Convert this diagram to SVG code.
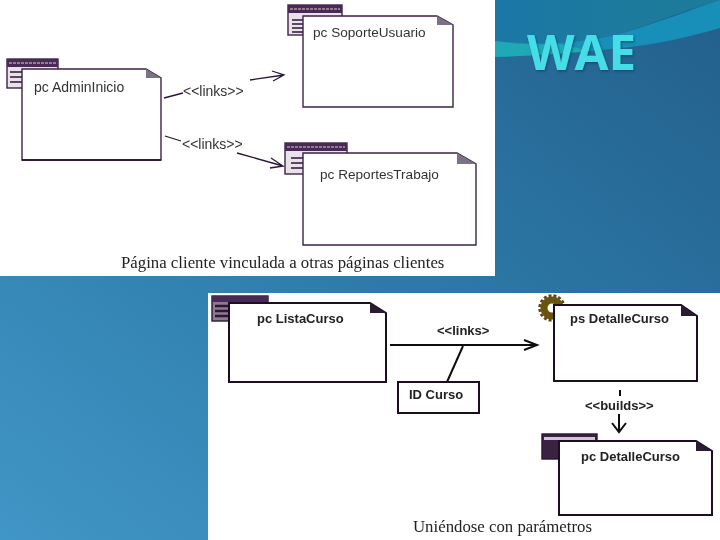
<svg xmlns="http://www.w3.org/2000/svg" width="720" height="540" viewBox="0 0 720 540">
<style>
.panel{fill:#fff}
.body{fill:#fff;stroke:#3d2145;stroke-width:1.4}
.bodyb{fill:#fff;stroke:#1d0c24;stroke-width:2}
.fold{fill:#7d7285;stroke:none}
.foldb{fill:#2a1c30;stroke:none}
.tab{fill:#e9e2ea;stroke:#3d2145;stroke-width:1.4}
.tabg{fill:#8c7a92;stroke:#2d1436;stroke-width:1.4}
.tabd{fill:#3a2342;stroke:#2d1436;stroke-width:1.4}
.bar{fill:#4a2a55}
.dots{fill:none;stroke:#d8cfdc;stroke-width:1;stroke-dasharray:3 1}
.ln{stroke:#2d1436;stroke-width:1.5}
.t{font-family:"Liberation Sans",Arial,sans-serif;font-size:14px;fill:#333}
.tm{font-family:"Liberation Sans",Arial,sans-serif;font-size:13.6px;fill:#333}
.tb{font-family:"Liberation Sans",Arial,sans-serif;font-size:13px;font-weight:bold;fill:#222}
.cap{font-family:"Liberation Serif","Times New Roman",serif;font-size:16.8px;fill:#222}
.c{fill:none;stroke:#2d1436;stroke-width:1.3}
.cb{fill:none;stroke:#111;stroke-width:2}
</style>
<defs>
<linearGradient id="bg" x1="0" y1="1" x2="1" y2="0">
<stop offset="0" stop-color="#4096c6"/><stop offset="0.55" stop-color="#2c78a6"/><stop offset="1" stop-color="#235f8c"/>
</linearGradient>
<linearGradient id="top" x1="0" y1="0" x2="1" y2="0">
<stop offset="0" stop-color="#1b78a6"/><stop offset="1" stop-color="#1d7c98"/>
</linearGradient>
<filter id="soft" x="-2%" y="-2%" width="104%" height="104%"><feGaussianBlur stdDeviation="0.35"/></filter>
<filter id="shadow" x="-5%" y="-5%" width="115%" height="120%"><feDropShadow dx="1" dy="1.5" stdDeviation="1" flood-color="#123f5c" flood-opacity="0.7"/></filter>
</defs>
<rect width="720" height="540" fill="url(#bg)"/>
<path d="M495 0H720V0C680 12 640 28 610 37C570 45 530 43 495 41Z" fill="url(#top)"/>
<path d="M495 41C530 44 575 46 623 33C660 22 690 10 720 0V28C680 40 640 47 600 50C560 54 525 56 495 57Z" fill="#178fb8"/>
<path d="M495 41C515 44 535 45 560 44L590 51C560 54 525 56 495 57Z" fill="#1fa9b4"/>
<rect class="panel" width="495" height="276"/>
<rect class="panel" x="208" y="293" width="512" height="247"/>

<g id="connectors" filter="url(#soft)">
<path class="c" d="M164 98L183 93M250 80L284 75M272 71L284 75L273 81"/>
<path class="c" d="M165 136L181 141M237 153L283 166M271 158L283 166L270 168"/>
<path class="cb" d="M390 345H536M524 340L537 345L524 350"/>
<path class="cb" d="M463 346L447 382"/>
<path class="cb" d="M620 390V396M619 414V431M612 423L619 432L626 423"/>
</g>

<g id="pc-soporte-usuario" filter="url(#soft)">
<rect class="tab" x="288" y="5" width="54" height="30"/><rect class="bar" x="288" y="5" width="54" height="8"/>
<path class="dots" d="M290 9H340"/>
<path class="ln" d="M292 20H303M292 24H303M292 28H303M292 32H303"/>
<path class="body" d="M303 16H437L453 25V107H303Z"/><path class="fold" d="M437 16L453 25H437Z"/>
<text class="tm" x="313" y="37">pc SoporteUsuario</text>
</g>
<g id="pc-admin-inicio" filter="url(#soft)">
<rect class="tab" x="7" y="59" width="51" height="29"/><rect class="bar" x="7" y="59" width="51" height="8"/>
<path class="dots" d="M9 63H56"/>
<path class="ln" d="M10 72H22M10 77H22M10 82H22"/>
<path class="body" d="M22 69H146L161 78V160H22Z"/><path class="fold" d="M146 69L161 78H146Z"/>
<path d="M22 160H161" stroke="#1d0c24" stroke-width="1.6"/>
<text class="t" x="34" y="92">pc AdminInicio</text>
</g>
<g id="pc-reportes-trabajo" filter="url(#soft)">
<rect class="tab" x="285" y="143" width="62" height="31"/><rect class="bar" x="285" y="143" width="62" height="8"/>
<path class="dots" d="M287 147H345"/>
<path class="ln" d="M291 158H303M291 163H303M291 168H303"/>
<path class="body" d="M303 153H457L476 164V245H303Z"/><path class="fold" d="M457 153L476 164H457Z"/>
<text class="tm" x="320" y="179">pc ReportesTrabajo</text>
</g>
<g id="label-links-1" filter="url(#soft)"><text class="t" x="183" y="96">&lt;&lt;links&gt;&gt;</text></g>
<g id="label-links-2" filter="url(#soft)"><text class="t" x="182" y="149">&lt;&lt;links&gt;&gt;</text></g>
<text class="cap" x="121" y="268" filter="url(#soft)">Página cliente vinculada a otras páginas clientes</text>

<g id="pc-lista-curso" filter="url(#soft)">
<rect class="tabg" x="212" y="296" width="56" height="25"/><rect class="bar" x="212" y="296" width="56" height="6"/>
<path d="M215 306H229M215 311H229M215 316H229" stroke="#2d1436" stroke-width="2.4"/>
<path class="bodyb" d="M229 303H370L386 313V382H229Z"/><path class="foldb" d="M370 303L386 313H370Z"/>
<text class="tb" x="257" y="323">pc ListaCurso</text>
</g>
<g id="ps-detalle-curso" filter="url(#soft)">
<circle cx="552" cy="308" r="8" fill="none" stroke="#6b5210" stroke-width="7"/>
<circle cx="552" cy="308" r="12.5" fill="none" stroke="#5c4610" stroke-width="2.5" stroke-dasharray="3 2"/>
<path class="bodyb" d="M554 305H681L697 316V381H554Z"/><path class="foldb" d="M681 305L697 316H681Z"/>
<text class="tb" x="570" y="323">ps DetalleCurso</text>
</g>
<g id="id-curso" filter="url(#soft)">
<rect class="bodyb" x="398" y="382" width="81" height="31"/>
<text class="tb" x="409" y="399">ID Curso</text>
</g>
<g id="pc-detalle-curso" filter="url(#soft)">
<rect class="tabd" x="542" y="434" width="55" height="25"/><rect x="544" y="437" width="51" height="3" fill="#cfc6d4"/>
<path class="bodyb" d="M559 441H696L712 451V515H559Z"/><path class="foldb" d="M696 441L712 451H696Z"/>
<text class="tb" x="581" y="461">pc DetalleCurso</text>
</g>
<g id="label-links-3" filter="url(#soft)"><text class="tb" x="437" y="335">&lt;&lt;links&gt;</text></g>
<g id="label-builds" filter="url(#soft)"><text class="tb" x="585" y="410">&lt;&lt;builds&gt;&gt;</text></g>
<text class="cap" x="413" y="532" filter="url(#soft)" textLength="179">Uniéndose con parámetros</text>

<g id="title"><text x="527" y="70" font-family="'Open Sans',sans-serif" font-weight="700" font-size="48" fill="#45dde8" textLength="109" lengthAdjust="spacingAndGlyphs" filter="url(#shadow)">WAE</text></g>
</svg>
